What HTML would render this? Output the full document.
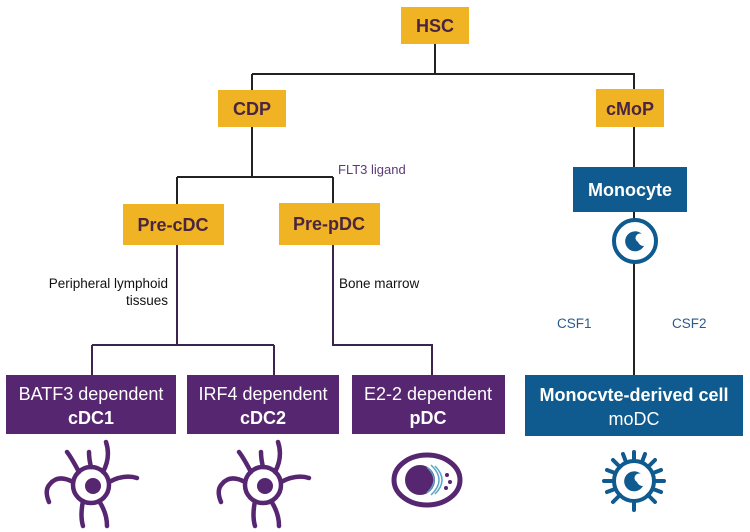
<!DOCTYPE html>
<html><head><meta charset="utf-8"><style>
html,body{margin:0;padding:0;background:#fff;width:750px;height:532px;overflow:hidden}
svg{display:block}
text{font-family:"Liberation Sans",Arial,sans-serif}
</style></head><body>
<svg width="750" height="532" viewBox="0 0 750 532" xmlns="http://www.w3.org/2000/svg">
<g stroke="#222" stroke-width="2" fill="none">
<path d="M435 44V74M252 74H634V90M252 74V90"/>
<path d="M252 127V177M177 177H333M177 177V204M333 177V204"/>
<path d="M634 127V167M634 212V375"/>
</g>
<g stroke="#3d2350" stroke-width="2" fill="none">
<path d="M177 245V345M92 345H274M92 345V375M274 345V375"/>
<path d="M333 245V345H432V375"/>
</g>
<g fill="#f0b323">
<rect x="401" y="7" width="68" height="37"/>
<rect x="218" y="90" width="68" height="37"/>
<rect x="596" y="89" width="68" height="38"/>
<rect x="123" y="204" width="101" height="41"/>
<rect x="279" y="203" width="101" height="42"/>
</g>
<g fill="#4a2540" font-weight="bold" font-size="18" text-anchor="middle">
<text x="435" y="32">HSC</text>
<text x="252" y="115">CDP</text>
<text x="630" y="115">cMoP</text>
<text x="173" y="231">Pre-cDC</text>
<text x="329" y="230">Pre-pDC</text>
</g>
<text x="338" y="174" font-size="13" fill="#5b3a7a">FLT3 ligand</text>
<text x="339" y="288" font-size="13.5" fill="#111">Bone marrow</text>
<text x="168" y="288" font-size="13.5" fill="#111" text-anchor="end">Peripheral lymphoid</text>
<text x="168" y="305" font-size="13.5" fill="#111" text-anchor="end">tissues</text>
<g fill="#562671">
<rect x="6" y="375" width="170" height="59"/>
<rect x="187" y="375" width="152" height="59"/>
<rect x="352" y="375" width="153" height="59"/>
</g>
<g fill="#fff" font-size="18" text-anchor="middle">
<text x="91" y="400">BATF3 dependent</text>
<text x="91" y="424" font-weight="bold">cDC1</text>
<text x="263" y="400">IRF4 dependent</text>
<text x="263" y="424" font-weight="bold">cDC2</text>
<text x="428" y="400">E2-2 dependent</text>
<text x="428" y="424" font-weight="bold">pDC</text>
</g>
<rect x="573" y="167" width="114" height="45" fill="#0f5a8e"/>
<text x="630" y="196" font-size="18" font-weight="bold" fill="#fff" text-anchor="middle">Monocyte</text>
<rect x="525" y="375" width="218" height="61" fill="#0f5a8e"/>
<text x="634" y="401" font-size="18" font-weight="bold" fill="#fff" text-anchor="middle">Monocvte-derived cell</text>
<text x="634" y="425" font-size="18" fill="#fff" text-anchor="middle">moDC</text>
<text x="557" y="328" font-size="13.5" fill="#2a5a8a">CSF1</text>
<text x="672" y="328" font-size="13.5" fill="#2a5a8a">CSF2</text>
<!-- monocyte icon -->
<circle cx="635" cy="241" r="21" fill="#fff" stroke="#0f5a8e" stroke-width="4"/>
<path d="M642 234a10 10 0 1 0 2 12a6 6 0 0 1-6-4a4 4 0 0 1 4-8z" fill="#0f5a8e"/>
<!-- moDC icon -->
<g stroke="#0f5a8e" stroke-width="4" fill="none" stroke-linecap="round">
<circle cx="634" cy="481" r="20" fill="#fff"/>
<path d="M634 461v-9M648 467l7-7M654 481h10M648 495l7 7M634 501v9M620 495l-7 7M614 481h-10M620 467l-7-7M642 462l3-8M626 462l-3-8M653 489l8 3M615 489l-8 3M653 473l8-3M615 473l-8-3"/>
</g>
<path d="M641 474a10 10 0 1 0 2 12a6 6 0 0 1-6-4a4 4 0 0 1 4-8z" fill="#0f5a8e"/>
<!-- cDC icons -->
<g stroke="#562671" stroke-width="4.5" fill="none" stroke-linecap="round">
<g transform="translate(91,485)">
<circle r="18" fill="#fff"/>
<path d="M-12-13q-8-15-12-20M12-13q8-15 3-30M18-3q15-8 28-4M-18-3q-15-8-23 2q-6 6-1 18M-8 16q-3 15 0 25M8 16q8 12 8 25M0-18q-2-8-2-15"/>
</g>
<g transform="translate(263,485)">
<circle r="18" fill="#fff"/>
<path d="M-12-13q-8-15-12-20M12-13q8-15 3-30M18-3q15-8 28-4M-18-3q-15-8-23 2q-6 6-1 18M-8 16q-3 15 0 25M8 16q8 12 8 25M0-18q-2-8-2-15"/>
</g>
</g>
<circle cx="93" cy="486" r="8" fill="#562671"/>
<circle cx="265" cy="486" r="8" fill="#562671"/>
<!-- pDC icon -->
<ellipse cx="427" cy="480" rx="33" ry="25" fill="#fff" stroke="#562671" stroke-width="5"/>
<circle cx="420" cy="480" r="15" fill="#562671"/>
<path d="M427 467q14 13 0 26M431 465q16 15 0 30M435 466q14 14 0 28" stroke="#5aa8c8" stroke-width="1.5" fill="none"/>
<circle cx="447" cy="475" r="2" fill="#562671"/><circle cx="450" cy="482" r="2" fill="#562671"/><circle cx="446" cy="488" r="2" fill="#562671"/>
</svg>
</body></html>
